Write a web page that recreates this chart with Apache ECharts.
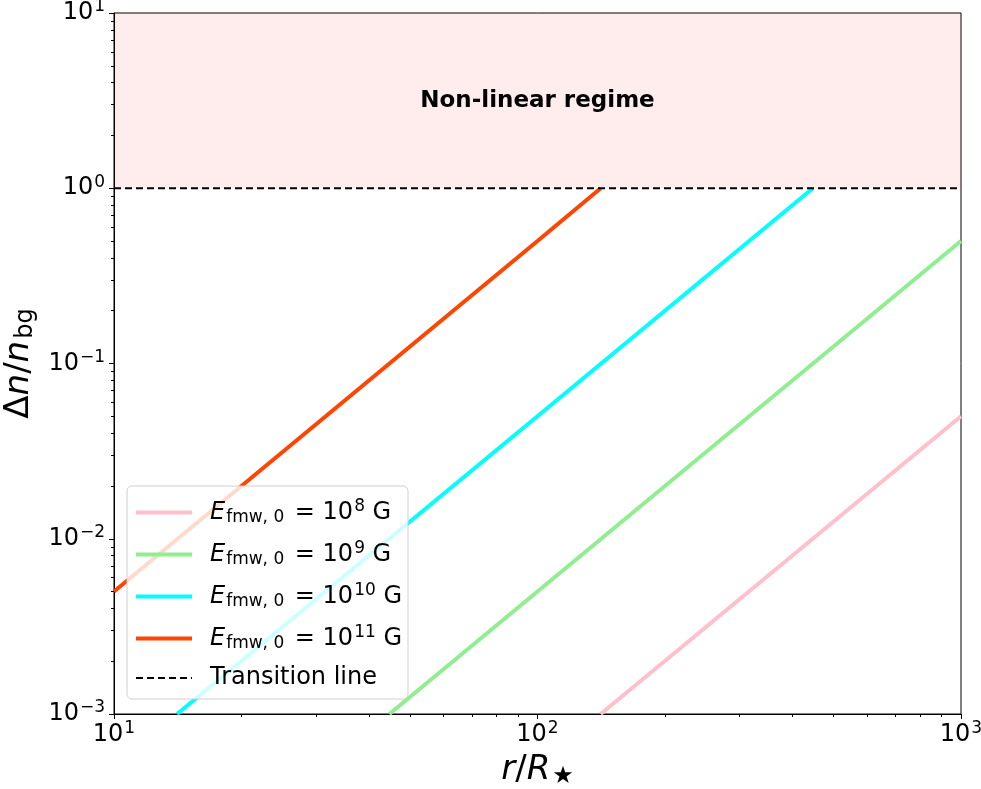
<!DOCTYPE html>
<html>
<head>
<meta charset="utf-8">
<script src="https://cdn.jsdelivr.net/npm/echarts@6/dist/echarts.min.js"></script>
<style>
  html, body { margin: 0; padding: 0; background: #fff; }
  #chart { width: 981px; height: 789px; }
</style>
</head>
<body>
<div id="chart"></div>
<script>
// values (r/R*, dn/n_bg)
var r_e8 = [141, 1000];
var n_e8 = [0.001, 0.05];
var r_e9 = [44.7, 100, 1000];
var n_e9 = [0.001, 0.005, 0.5];
var r_e10 = [14.1, 100, 447];
var n_e10 = [0.001, 0.05, 1];
var r_e11 = [10, 100, 141];
var n_e11 = [0.005, 0.5, 1];
var r_trans = [10, 1000];
var n_trans = [1, 1];

var legendNames = ['E8', 'E9', 'E10', 'E11', 'Transition line'];
var legendExp = { E8: '8', E9: '9', E10: '10', E11: '11' };

var xMinor = [];
var yMinor = [];
[10, 100].forEach(function (d) {
  for (var k = 2; k <= 9; k++) xMinor.push(k * d);
});
[0.001, 0.01, 0.1, 1].forEach(function (d) {
  for (var k = 2; k <= 9; k++) yMinor.push(k * d);
});

function pairs(xs, ys) {
  return xs.map(function (x, i) { return [x, ys[i]]; });
}

function powLabel(v) {
  var e = Math.round(Math.log10(v));
  var s = e < 0 ? '\u2212' + (-e) : '' + e;
  return '{t|10}{sup|' + s + '}';
}

var font = 'DejaVu Sans';
var tickRich = {
  t: { fontSize: 24, fontFamily: font, color: '#000' },
  sup: { fontSize: 17, fontFamily: font, color: '#000', padding: [0, 0, 12, 1] }
};
var nameRich = {
  t: { fontFamily: font, fontSize: 34, color: '#000' },
  i: { fontFamily: font, fontSize: 34, fontStyle: 'italic', color: '#000' },
  sub: { fontFamily: font, fontSize: 24, color: '#000', padding: [13, 0, 0, 2] }
};

var myChart = echarts.init(document.getElementById('chart'));

function lineSeries(name, data, color) {
  return {
    name: name,
    type: 'line',
    data: data,
    symbol: 'none',
    clip: true,
    lineStyle: { color: color, width: 4 },
    itemStyle: { color: color },
    z: 2
  };
}

myChart.setOption({
  animation: false,
  backgroundColor: '#fff',
  grid: {
    left: 114, right: 20, top: 13, bottom: 75,
    outerBoundsMode: 'none',
    containLabel: false,
    show: true, borderColor: '#000', borderWidth: 1, backgroundColor: 'transparent'
  },
  legend: {
    data: legendNames.map(function (n) {
      return { name: n, lineStyle: { width: n === 'Transition line' ? 2 : 4 } };
    }),
    orient: 'vertical',
    left: 127,
    top: 486,
    itemWidth: 56,
    itemHeight: 14,
    itemGap: 14,
    padding: [12, 6, 9, 7],
    backgroundColor: 'rgba(255,255,255,0.8)',
    borderColor: '#d0d0d0',
    borderWidth: 1,
    borderRadius: 5,
    z: 10,
    itemStyle: { opacity: 0 },
    formatter: function (name) {
      if (name === 'Transition line') return '{t|Transition line}';
      return '{i|E}{sub|fmw, 0}{t| = 10}{sup|' + legendExp[name] + '}{t| G}';
    },
    textStyle: {
      fontFamily: font,
      fontSize: 24,
      color: '#000',
      padding: [0, 0, 0, 13],
      rich: {
        t: { fontFamily: font, fontSize: 24, lineHeight: 30, color: '#000' },
        i: { fontFamily: font, fontSize: 24, lineHeight: 30, fontStyle: 'italic', color: '#000' },
        sub: { fontFamily: font, fontSize: 17, color: '#000', padding: [10, 3, 0, 1] },
        sup: { fontFamily: font, fontSize: 17, color: '#000', padding: [0, 0, 12, 1] }
      }
    }
  },
  xAxis: [{
    type: 'log',
    logBase: 10,
    min: 10,
    max: 1000,
    interval: 1,
    position: 'bottom',
    name: '{i|r}{t|/}{i|R}{sub|\u2605}',
    nameLocation: 'middle',
    nameGap: 38,
    nameTextStyle: { rich: nameRich },
    axisLine: { show: true, lineStyle: { color: '#000', width: 1 } },
    axisTick: { show: true, length: 5, lineStyle: { color: '#000', width: 1 } },
    axisLabel: {
      formatter: powLabel,
      fontFamily: font, fontSize: 24, color: '#000', margin: 6,
      rich: tickRich
    },
    splitLine: { show: false }
  }, {
    type: 'log',
    logBase: 10,
    min: 10,
    max: 1000,
    position: 'bottom',
    axisLine: { show: false },
    axisLabel: { show: false },
    axisTick: { show: true, length: 3, customValues: xMinor, lineStyle: { color: '#000', width: 1 } },
    splitLine: { show: false }
  }],
  yAxis: [{
    type: 'log',
    logBase: 10,
    min: 0.001,
    max: 10,
    interval: 1,
    position: 'left',
    name: '{t|\u0394}{i|n}{t|/}{i|n}{sub|bg}',
    nameLocation: 'middle',
    nameGap: 74,
    nameRotate: 90,
    nameTextStyle: { rich: nameRich },
    axisLine: { show: true, lineStyle: { color: '#000', width: 1 } },
    axisTick: { show: true, length: 5, lineStyle: { color: '#000', width: 1 } },
    axisLabel: {
      formatter: powLabel,
      fontFamily: font, fontSize: 24, color: '#000', margin: 9,
      rich: tickRich
    },
    splitLine: { show: false }
  }, {
    type: 'log',
    logBase: 10,
    min: 0.001,
    max: 10,
    position: 'left',
    axisLine: { show: false },
    axisLabel: { show: false },
    axisTick: { show: true, length: 3, customValues: yMinor, lineStyle: { color: '#000', width: 1 } },
    splitLine: { show: false }
  }],
  series: [
    lineSeries('E8', pairs(r_e8, n_e8), '#ffc0cb'),
    lineSeries('E9', pairs(r_e9, n_e9), '#90ee90'),
    lineSeries('E10', pairs(r_e10, n_e10), '#00ffff'),
    lineSeries('E11', pairs(r_e11, n_e11), '#ff4500'),
    {
      name: 'Transition line',
      type: 'line',
      data: pairs(r_trans, n_trans),
      symbol: 'none',
      lineStyle: { color: '#000', width: 2, type: [7, 4] },
      itemStyle: { color: '#000' },
      z: 3,
      markArea: {
        silent: true,
        itemStyle: { color: 'rgba(255,0,0,0.07)' },
        label: {
          show: true,
          position: 'inside',
          fontFamily: font,
          fontWeight: 'bold',
          fontSize: 23,
          color: '#000'
        },
        data: [[{ name: 'Non-linear regime', yAxis: 1 }, { yAxis: 10 }]]
      }
    }
  ]
});
</script>
</body>
</html>
